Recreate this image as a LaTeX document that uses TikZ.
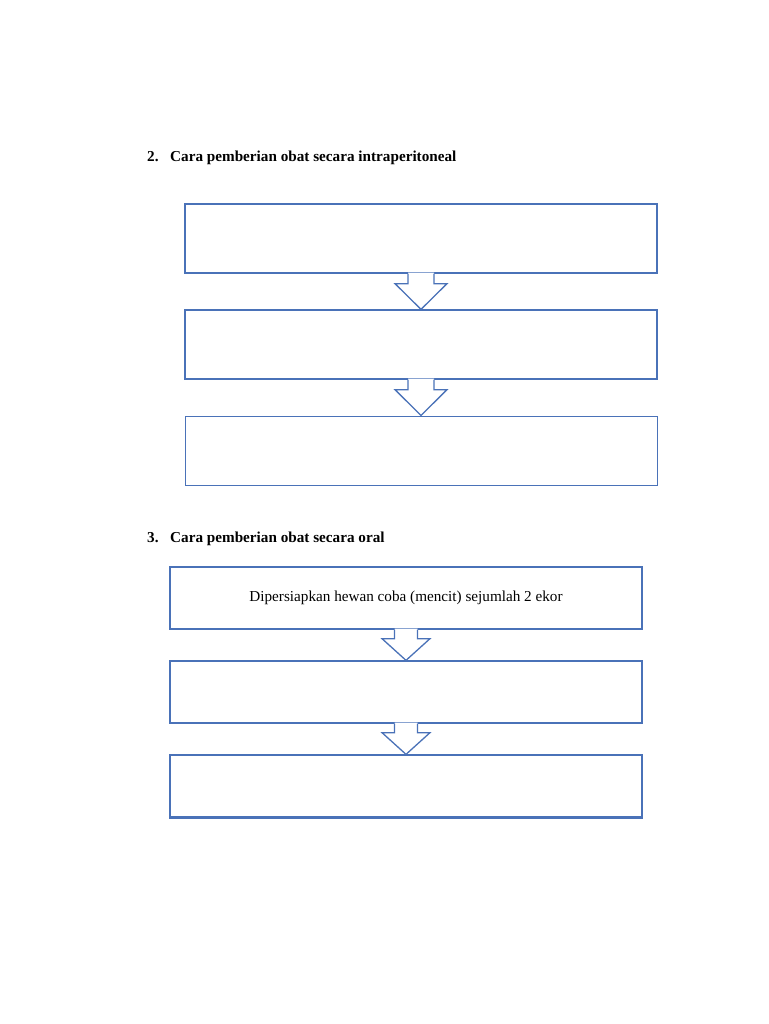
\documentclass[tikz,border=0pt]{standalone}
\usepackage{fontspec}
\setmainfont{Liberation Serif}
\usetikzlibrary{calc}
\definecolor{boxblue}{HTML}{4A72B8}
\tikzset{
  flowbox/.style={draw=boxblue, line width=1.3pt, fill=white, inner sep=0pt, minimum width=472pt, font=\fontsize{15.2}{18}\selectfont},
  headtxt/.style={anchor=base west, inner sep=0pt, font=\fontsize{15.2}{18}\selectfont\bfseries},
  arrline/.style={draw=boxblue, line width=1.3pt, line join=miter},
}
% #1 upper node, #2 lower node, #3 half stem width, #4 half head width, #5 stem length
\newcommand\blockarr[5]{%
  \fill[white] ($(#1.south)+(-#3,-1)$) -- ($(#1.south)+(-#3,#5)$) -- ($(#1.south)+(-#4,#5)$) -- (#2.north) -- ($(#1.south)+(#4,#5)$) -- ($(#1.south)+(#3,#5)$) -- ($(#1.south)+(#3,-1)$) -- cycle;
  \draw[arrline] ($(#1.south)+(-#3,0)$) -- ($(#1.south)+(-#3,#5)$) -- ($(#1.south)+(-#4,#5)$) -- (#2.north) -- ($(#1.south)+(#4,#5)$) -- ($(#1.south)+(#3,#5)$) -- ($(#1.south)+(#3,0)$);
}
\begin{document}
\begin{tikzpicture}[x=1pt,y=-1pt]
\useasboundingbox (0,0) rectangle (768,1024);
\fill[white] (0,0) rectangle (768,1024);
% Section 2
\node[headtxt] (n2) at (147,162) {2.};
\node[headtxt] (h2) at (170,162) {Cara pemberian obat secara intraperitoneal};
\node[flowbox, minimum height=69pt] (a1) at (421,238.5) {};
\node[flowbox, minimum height=69pt] (a2) at (421,344.5) {};
\node[flowbox, minimum height=69pt, line width=1pt] (a3) at (421,450.5) {};
\blockarr{a1}{a2}{13}{26}{10}
\blockarr{a2}{a3}{13}{26}{10}
% Section 3
\node[headtxt] (n3) at (147,542) {3.};
\node[headtxt] (h3) at (170,542) {Cara pemberian obat secara oral};
\node[flowbox, minimum height=62pt] (b1) at (406,598) {\raisebox{-1pt}{Dipersiapkan hewan coba (mencit) sejumlah 2 ekor}};
\node[flowbox, minimum height=62pt] (b2) at (406,692) {};
\node[flowbox, minimum height=62pt] (b3) at (406,786) {};
\draw[boxblue, line width=2pt] (b3.south west) -- (b3.south east);
\blockarr{b1}{b2}{11.5}{24}{9}
\blockarr{b2}{b3}{11.5}{24}{9}
\end{tikzpicture}
\end{document}
